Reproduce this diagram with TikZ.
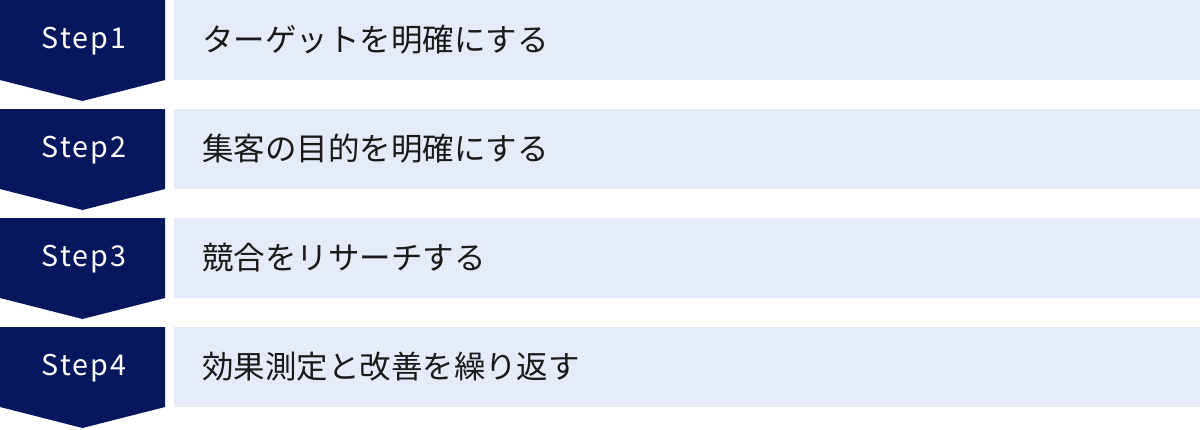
\documentclass[tikz,border=0pt]{standalone}
\usepackage{fontspec}
\setmainfont{Noto Sans CJK JP}
\newfontfamily\stepfont[LetterSpace=7]{Noto Sans CJK JP}
\usetikzlibrary{positioning}
\definecolor{navy}{HTML}{06175E}
\definecolor{paleblue}{HTML}{E5EBF8}
\definecolor{ink}{HTML}{1A1A1A}

\begin{document}
\begin{tikzpicture}[%
    x=0.75pt,
    y=-0.75pt,
    chevron/.style={fill=navy},
    band/.style={fill=paleblue},
    steplabel/.style={text=white,font=\stepfont\fontsize{21.5}{22}\selectfont},
    tasklabel/.style={text=ink,font=\fontsize{23.6}{24}\selectfont,anchor=west,inner sep=0pt}
  ]
  \useasboundingbox (0,0) rectangle (1200,429);

  \path[chevron] (0,0) -- (165,0) -- (165,80) -- (82.5,101) -- (0,80) -- cycle;
  \path[chevron] (0,109) -- (165,109) -- (165,189) -- (82.5,210) -- (0,189) -- cycle;
  \path[chevron] (0,218) -- (165,218) -- (165,298) -- (82.5,319) -- (0,298) -- cycle;
  \path[chevron] (0,327) -- (165,327) -- (165,407) -- (82.5,428) -- (0,407) -- cycle;

  \path[band] (174,0) rectangle (1200,80);
  \path[band] (174,109) rectangle (1200,189);
  \path[band] (174,218) rectangle (1200,298);
  \path[band] (174,327) rectangle (1200,407);

  \node[steplabel] (s1) at (84,41) {Step1};
  \node[steplabel] (s2) at (84,150) {Step2};
  \node[steplabel] (s3) at (84,259) {Step3};
  \node[steplabel] (s4) at (84,368) {Step4};

  \node[tasklabel] (t1) at (202,40) {ターゲットを明確にする};
  \node[tasklabel] (t2) at (202,149) {集客の目的を明確にする};
  \node[tasklabel] (t3) at (202,258) {競合をリサーチする};
  \node[tasklabel] (t4) at (202,367) {効果測定と改善を繰り返す};

\end{tikzpicture}
\end{document}
